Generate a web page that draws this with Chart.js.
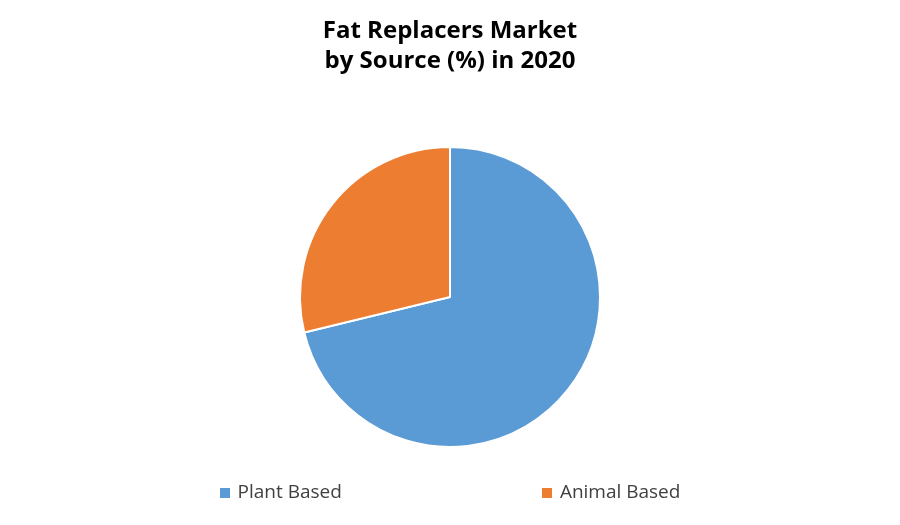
<!DOCTYPE html>
<html lang="en">
<head>
    <meta charset="UTF-8">
    <title>Fat Replacers Market by Source</title>
    <script src="https://cdn.jsdelivr.net/npm/chart.js"></script>
    <style>
        body { margin: 0; background: #fff; font-family: "Open Sans", sans-serif; }
        #wrap { position: relative; width: 900px; height: 525px; }
        #legend { position: absolute; top: 478px; left: 0; width: 900px; display: flex; justify-content: center; gap: 200px; font-size: 19px; color: #404040; }
        #legend span.box { display: inline-block; width: 10px; height: 10px; margin-right: 8px; vertical-align: middle; }
    </style>
</head>
<body>
    <div id="wrap">
        <canvas id="pie" width="900" height="525"></canvas>
        <div id="legend"></div>
    </div>
    <script>
        const categories = ['Plant Based', 'Animal Based'];
        const shares = [71.2, 28.8];
        const colors = ['#5B9BD5', '#ED7D31'];

        new Chart(document.getElementById('pie'), {
            type: 'pie',
            data: {
                labels: categories,
                datasets: [{ data: shares, backgroundColor: colors, borderColor: '#fff', borderWidth: 2 }]
            },
            options: {
                responsive: false,
                animation: false,
                layout: { padding: { bottom: 77 } },
                plugins: {
                    legend: { display: false },
                    tooltip: { enabled: false },
                    title: {
                        display: true,
                        text: ['Fat Replacers Market', 'by Source (%) in 2020'],
                        color: '#000',
                        font: { family: '"Open Sans", sans-serif', size: 24, weight: 'bold', lineHeight: 1.25 },
                        padding: { top: 16, bottom: 70 }
                    }
                }
            }
        });

        const legend = document.getElementById('legend');
        categories.forEach((c, i) => {
            const item = document.createElement('div');
            item.innerHTML = '<span class="box" style="background:' + colors[i] + '"></span>' + c;
            legend.appendChild(item);
        });
    </script>
</body>
</html>
